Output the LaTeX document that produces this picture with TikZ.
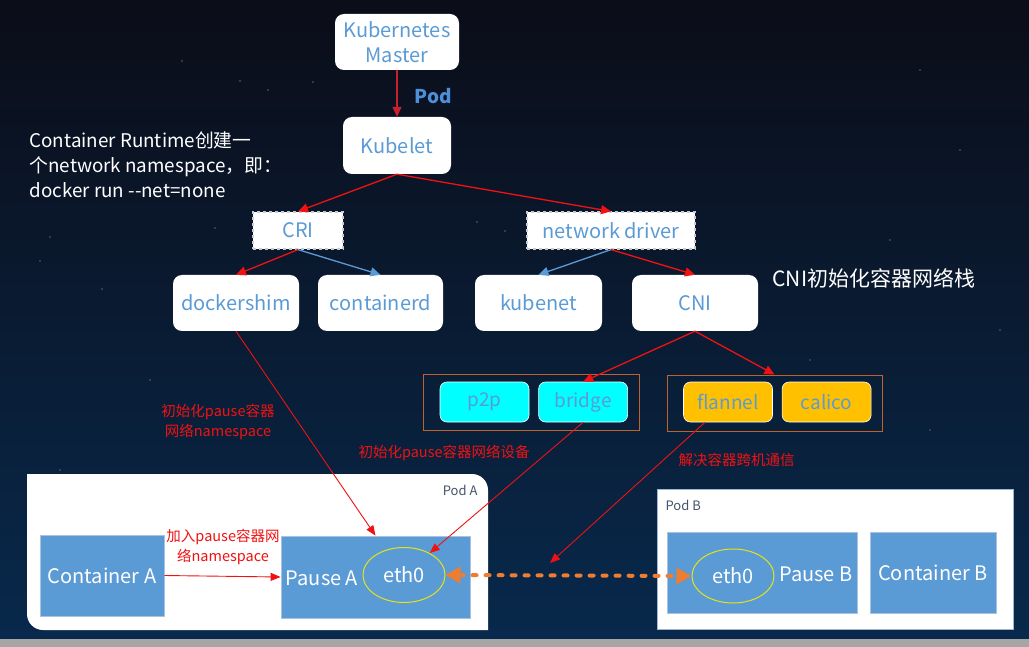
\documentclass[tikz,border=0pt]{standalone}
\usepackage{fontspec}
\setmainfont{Noto Sans CJK SC}
\usetikzlibrary{arrows.meta,positioning,shapes.geometric}
\definecolor{kblue}{HTML}{5B9BD5}
\definecolor{podblue}{HTML}{4E8FDB}
\definecolor{kred}{HTML}{F01212}
\definecolor{darkred}{HTML}{C8202E}
\definecolor{dashgrey}{HTML}{C8CCD4}
\definecolor{grpline}{HTML}{C0622B}
\definecolor{cyanfill}{HTML}{00FFFF}
\definecolor{yellowfill}{HTML}{FFC000}
\definecolor{ringyellow}{HTML}{E3E31B}
\definecolor{dotorange}{HTML}{ED7D31}
\definecolor{boxline}{HTML}{A8C2E0}
\definecolor{podline}{HTML}{9EB6D8}
\definecolor{podtext}{HTML}{44546A}
\definecolor{skytop}{HTML}{0B0D18}
\definecolor{skybot}{HTML}{08294C}
\definecolor{bargrey}{HTML}{A6A6A6}
\definecolor{stargrey}{HTML}{5C6272}
\newcommand\fsz[2]{\fontsize{#1}{#2}\selectfont}

\begin{document}
\begin{tikzpicture}[x=1pt,y=-1pt,
  whitebox/.style={fill=white,rounded corners=9pt,text=kblue,font=\fsz{20}{23},minimum width=126pt,minimum height=56pt,inner sep=2pt},
  dashbox/.style={fill=white,draw=dashgrey,dashed,line width=1.2pt,text=kblue,font=\fsz{20}{23},minimum height=37pt,inner sep=2pt},
  plugbox/.style={rounded corners=7pt,draw=white,line width=0.6pt,text=kblue,font=\fsz{19}{22},minimum width=89pt,minimum height=40pt,inner sep=1pt},
  grpbox/.style={draw=grpline,line width=1pt,minimum height=56pt},
  bluebox/.style={fill=kblue,draw=boxline,line width=0.8pt,text=white,font=\fsz{20}{23},minimum height=81pt},
  ethring/.style={ellipse,draw=ringyellow,line width=1pt,text=white,font=\fsz{20}{23},minimum width=82pt,minimum height=55pt,inner sep=0pt},
  redline/.style={draw=kred,line width=1.3pt,-{Triangle[length=10pt,width=9pt]}},
  blueline/.style={draw=kblue,line width=1.3pt,-{Triangle[length=10pt,width=9pt]}},
  thinred/.style={draw=kred,line width=0.9pt,-{Triangle[length=10pt,width=8pt]}},
  note/.style={text=kred,font=\fsz{14.5}{20},align=center}]
  % background
  \fill[top color=skytop,bottom color=skybot] (0,0) rectangle (1029,639);
  \fill[bargrey] (0,639) rectangle (1029,647);
  \foreach \sx/\sy in {182/61,240/81,268/90,313/82,50/237,215/228,40/261,477/222,505/231,102/289,
                       920/70,960/150,890/240,1000/330,810/360,930/430,700/620,990/520,150/380,60/470}
    \fill[stargrey] (\sx,\sy) circle (0.9pt);
  % pods
  \fill[white] (250,474) -- (27,474) [rounded corners=16pt] -- (27,630) [sharp corners] -- (488,630) [rounded corners=16pt] -- (488,474) [sharp corners] -- cycle;
  \draw[fill=white,draw=podline,line width=1pt] (657,489) rectangle (1013,629);
  \node[anchor=east,text=podtext,font=\fsz{13}{16}] (podAlbl) at (481,490) {Pod A};
  \node[anchor=west,text=podtext,font=\fsz{13}{16}] (podBlbl) at (662,505) {Pod B};

  % control plane
  \node[whitebox,minimum width=124pt,align=center] (master) at (397,42) {Kubernetes\\[2pt]Master};
  \node[whitebox,minimum width=108pt,minimum height=57pt] (kubelet) at (397,145.5) {Kubelet};
  \node[text=podblue,font=\fsz{19}{22}\bfseries] (podlbl) at (433,96) {Pod};
  \node[anchor=north west,align=left,text=white,font=\fsz{18.8}{25}] (runtime) at (26,128) {Container Runtime创建一\\个network namespace，即：\\docker run -\kern0pt-net=none};

  \node[dashbox,minimum width=90pt] (cri) at (298,230.5) {CRI};
  \node[dashbox,minimum width=168pt] (netdriver) at (611,230.5) {network driver};

  \node[whitebox] (dockershim) at (236,303) {dockershim};
  \node[whitebox,minimum width=125pt] (containerd) at (380.5,303) {containerd};
  \node[whitebox,minimum width=127pt] (kubenet) at (538.5,303) {kubenet};
  \node[whitebox] (cni) at (695,303) {CNI};
  \node[anchor=west,text=white,font=\fsz{21}{24}] (cnistack) at (769,278) {CNI初始化容器网络栈};

  % plugins
  \node[grpbox,minimum width=216pt] (grpA) at (531,402) {};
  \node[grpbox,minimum width=215pt] (grpB) at (774.5,403) {};
  \node[plugbox,fill=cyanfill] (p2p) at (484.5,402) {p2p};
  \node[plugbox,fill=cyanfill,right=9pt of p2p] (bridge) {bridge};
  \node[plugbox,fill=yellowfill] (flannel) at (728,402) {flannel};
  \node[plugbox,fill=yellowfill,right=9pt of flannel] (calico) {calico};

  % containers
  \node[bluebox,minimum width=124pt] (containerA) at (102,575.5) {Container A};
  \node[bluebox,minimum width=189pt,minimum height=82pt] (pauseA) at (375.5,577) {};
  \node[text=white,font=\fsz{20}{23}] (pauseAlbl) at (322,578) {Pause A};
  \node[ethring] (ethA) at (404,575) {eth0};
  \node[bluebox,minimum width=190pt] (pauseB) at (762,572.5) {};
  \node[text=white,font=\fsz{20}{23}] (pauseBlbl) at (816,574) {Pause B};
  \node[ethring,minimum height=54pt] (ethB) at (733,576) {eth0};
  \node[bluebox,minimum width=126pt] (containerB) at (933,572.5) {Container B};

  % notes
  \node[note] (lblns) at (218,422) {初始化pause容器\\网络namespace};
  \node[note,anchor=west] (lbldev) at (355,453) {初始化pause容器网络设备};
  \node[note,anchor=west] (lblcross) at (675,460) {解决容器跨机通信};
  \node[note] (lbljoin) at (223,547) {加入pause容器网\\络namespace};
  \coordinate (crossend) at (550,563);

  % connectors
  \draw[draw=darkred,line width=1.3pt,-{Triangle[length=10pt,width=9pt]}] (master) -- (kubelet);
  \draw[redline] (kubelet.south) -- (cri.north);
  \draw[redline] (kubelet.south) -- (netdriver.north);
  \draw[redline] (cri.south) -- (dockershim.north);
  \draw[blueline] (cri.south) -- (containerd.north);
  \draw[blueline] (netdriver.south) -- (kubenet.north);
  \draw[redline] (netdriver.south) -- (cni.north);
  \draw[redline] (cni.south) -- (bridge.north);
  \draw[redline] (cni.south) -- (grpB.north);
  \draw[thinred] (dockershim.south) -- (pauseA.north);
  \draw[thinred] (bridge.south) -- (ethA);
  \draw[thinred] ([xshift=-23pt]flannel.south) -- (crossend);
  \draw[thinred] (containerA.east) -- (pauseA.west);
  \draw[dotorange,line width=4pt,line cap=round,dash pattern=on 4pt off 9pt,{Triangle[length=15pt,width=16pt]}-{Triangle[length=15pt,width=16pt]}] (ethA.east) -- (ethB.west);
\end{tikzpicture}
\end{document}
